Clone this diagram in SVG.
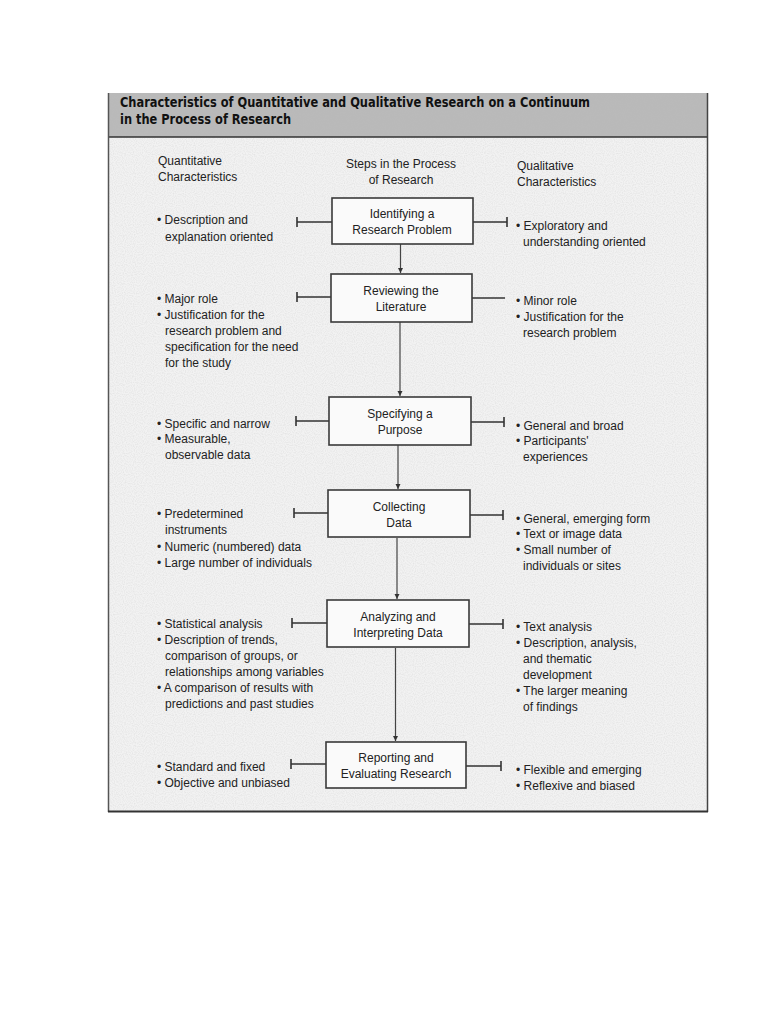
<svg xmlns="http://www.w3.org/2000/svg" width="768" height="1024" viewBox="0 0 768 1024">
<defs>
<style>
.t{font-family:"Liberation Sans",Arial,sans-serif;font-size:12px;fill:#222}
.bx{fill:#fafafa;stroke:#3a3a3a;stroke-width:1.6}
.bt{font-family:"Liberation Sans",Arial,sans-serif;font-size:12px;fill:#222;text-anchor:middle}
.st{stroke:#333;stroke-width:1.6;fill:none}
.vc{stroke:#444;stroke-width:1.2;fill:none}
.ttl{font-family:"DejaVu Sans Condensed","Liberation Sans",sans-serif;font-weight:bold;font-size:14px;fill:#111}
</style>
<filter id="speck" x="0" y="0" width="100%" height="100%">
<feTurbulence type="fractalNoise" baseFrequency="0.9" numOctaves="1" seed="3"/>
<feColorMatrix type="matrix" values="0 0 0 0 0.5  0 0 0 0 0.5  0 0 0 0 0.5  0 0 0 -2.2 1.35"/>
</filter>
<marker id="ah" markerWidth="6" markerHeight="6" refX="5" refY="3" orient="auto" markerUnits="userSpaceOnUse">
<path d="M0,0.5 L5,3 L0,5.5 z" fill="#333"/>
</marker>
</defs>
<rect width="768" height="1024" fill="#ffffff"/>
<g id="frame">
<rect x="108" y="93" width="600" height="719" fill="#f2f2f2"/>
<rect x="108" y="93" width="600" height="719" fill="#000" filter="url(#speck)" opacity="0.25"/>
<rect x="108" y="93" width="600" height="44" fill="#b9b9b9"/>
<rect x="108" y="93" width="600" height="44" fill="#000" filter="url(#speck)" opacity="0.55"/>
<line x1="108" y1="137" x2="708" y2="137" stroke="#333" stroke-width="1.5"/>
<line x1="108.5" y1="93" x2="108.5" y2="812" stroke="#555" stroke-width="1.5"/>
<line x1="707.5" y1="93" x2="707.5" y2="812" stroke="#444" stroke-width="1.5"/>
<line x1="108" y1="811.5" x2="708" y2="811.5" stroke="#333" stroke-width="2"/>
</g>
<g id="title">
<text class="ttl" x="120" y="107" textLength="470" lengthAdjust="spacingAndGlyphs">Characteristics of Quantitative and Qualitative Research on a Continuum</text>
<text class="ttl" x="120" y="124" textLength="171" lengthAdjust="spacingAndGlyphs">in the Process of Research</text>
</g>
<g id="headers">
<text class="t" x="158" y="165">Quantitative</text>
<text class="t" x="158" y="181">Characteristics</text>
<text class="bt" x="401" y="168">Steps in the Process</text>
<text class="bt" x="401" y="184">of Research</text>
<text class="t" x="517" y="170">Qualitative</text>
<text class="t" x="517" y="186">Characteristics</text>
</g>
<g id="connectors">
<line class="vc" x1="400.5" y1="244" x2="400.5" y2="273" marker-end="url(#ah)"/>
<line class="vc" x1="400" y1="322" x2="400" y2="396" marker-end="url(#ah)"/>
<line class="vc" x1="398" y1="445" x2="398" y2="489" marker-end="url(#ah)"/>
<line class="vc" x1="397" y1="538" x2="397" y2="599" marker-end="url(#ah)"/>
<line class="vc" x1="395.5" y1="648" x2="395.5" y2="741" marker-end="url(#ah)"/>
<path class="st" d="M297,222 H332 M297,217 V227"/>
<path class="st" d="M473,222 H507 M507,217 V227"/>
<path class="st" d="M297,297 H331 M297,292 V302"/>
<path class="st" d="M472,298 H505"/>
<path class="st" d="M296,421 H330 M296,416 V426"/>
<path class="st" d="M471,422 H504 M504,417 V427"/>
<path class="st" d="M294,513 H328 M294,508 V518"/>
<path class="st" d="M470,515 H503 M503,510 V520"/>
<path class="st" d="M292,623 H327 M292,618 V628"/>
<path class="st" d="M469,624 H503 M503,619 V629"/>
<path class="st" d="M291,764 H326 M291,759 V769"/>
<path class="st" d="M466,766 H501 M501,761 V771"/>
</g>
<g id="n1">
<rect class="bx" x="332" y="198" width="141" height="46"/>
<text class="bt" x="402" y="218">Identifying a</text>
<text class="bt" x="402" y="234">Research Problem</text>
</g>
<g id="n2">
<rect class="bx" x="331" y="274" width="141" height="48"/>
<text class="bt" x="401" y="295">Reviewing the</text>
<text class="bt" x="401" y="311">Literature</text>
</g>
<g id="n3">
<rect class="bx" x="329" y="397" width="142" height="48"/>
<text class="bt" x="400" y="418">Specifying a</text>
<text class="bt" x="400" y="434">Purpose</text>
</g>
<g id="n4">
<rect class="bx" x="328" y="490" width="142" height="47"/>
<text class="bt" x="399" y="511">Collecting</text>
<text class="bt" x="399" y="527">Data</text>
</g>
<g id="n5">
<rect class="bx" x="327" y="600" width="142" height="47"/>
<text class="bt" x="398" y="621">Analyzing and</text>
<text class="bt" x="398" y="637">Interpreting Data</text>
</g>
<g id="n6">
<rect class="bx" x="326" y="742" width="140" height="46"/>
<text class="bt" x="396" y="762">Reporting and</text>
<text class="bt" x="396" y="778">Evaluating Research</text>
</g>
<g id="quant">
<text class="t" x="157" y="224">• Description and</text>
<text class="t" x="165" y="241">explanation oriented</text>
<text class="t" x="157" y="303">• Major role</text>
<text class="t" x="157" y="319">• Justification for the</text>
<text class="t" x="165" y="335">research problem and</text>
<text class="t" x="165" y="351">specification for the need</text>
<text class="t" x="165" y="367">for the study</text>
<text class="t" x="157" y="428">• Specific and narrow</text>
<text class="t" x="157" y="443">• Measurable,</text>
<text class="t" x="165" y="459">observable data</text>
<text class="t" x="157" y="518">• Predetermined</text>
<text class="t" x="165" y="534">instruments</text>
<text class="t" x="157" y="551">• Numeric (numbered) data</text>
<text class="t" x="157" y="567">• Large number of individuals</text>
<text class="t" x="157" y="628">• Statistical analysis</text>
<text class="t" x="157" y="644">• Description of trends,</text>
<text class="t" x="165" y="660">comparison of groups, or</text>
<text class="t" x="165" y="676">relationships among variables</text>
<text class="t" x="157" y="692">• A comparison of results with</text>
<text class="t" x="165" y="708">predictions and past studies</text>
<text class="t" x="157" y="771">• Standard and fixed</text>
<text class="t" x="157" y="787">• Objective and unbiased</text>
</g>
<g id="qual">
<text class="t" x="516" y="230">• Exploratory and</text>
<text class="t" x="523" y="246">understanding oriented</text>
<text class="t" x="516" y="305">• Minor role</text>
<text class="t" x="516" y="321">• Justification for the</text>
<text class="t" x="523" y="337">research problem</text>
<text class="t" x="516" y="430">• General and broad</text>
<text class="t" x="516" y="445">• Participants'</text>
<text class="t" x="523" y="461">experiences</text>
<text class="t" x="516" y="523">• General, emerging form</text>
<text class="t" x="516" y="538">• Text or image data</text>
<text class="t" x="516" y="554">• Small number of</text>
<text class="t" x="523" y="570">individuals or sites</text>
<text class="t" x="516" y="631">• Text analysis</text>
<text class="t" x="516" y="647">• Description, analysis,</text>
<text class="t" x="523" y="663">and thematic</text>
<text class="t" x="523" y="679">development</text>
<text class="t" x="516" y="695">• The larger meaning</text>
<text class="t" x="523" y="711">of findings</text>
<text class="t" x="516" y="774">• Flexible and emerging</text>
<text class="t" x="516" y="790">• Reflexive and biased</text>
</g>
</svg>
